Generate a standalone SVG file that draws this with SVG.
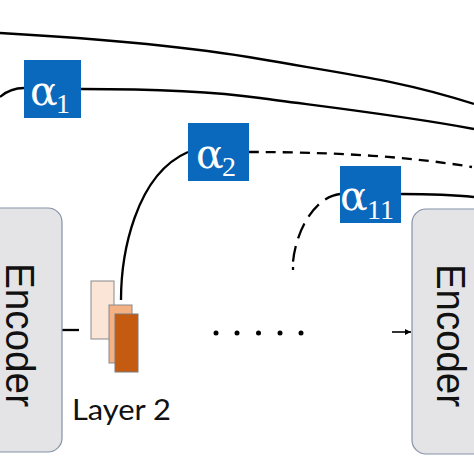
<svg xmlns="http://www.w3.org/2000/svg" width="474" height="474" viewBox="0 0 474 474">
<style>
.enc{fill:#e4e4e6;stroke:#8592a8;stroke-width:1.2}
.enct{font-family:"Liberation Sans",Arial,sans-serif;font-size:40px;fill:#111}
.box{fill:#0a69bd}
.a{font-family:"DejaVu Serif",serif;font-size:41px;fill:#fff}
.s{font-family:"Liberation Serif",serif;font-size:28px;fill:#fff}
.c{fill:none;stroke:#000;stroke-width:2.3}
.d{stroke-dasharray:10 7}
.l{font-family:Lato,"Liberation Sans",sans-serif;font-size:29px;fill:#111}
</style>
<defs><marker id="ah" markerWidth="7" markerHeight="7" refX="6" refY="3" orient="auto" markerUnits="userSpaceOnUse"><path d="M0 0L6 3L0 6z" fill="#000"/></marker></defs>
<rect width="474" height="474" fill="#fff"/>
<g id="connectors">
<path class="c" d="M0 33C90 38 180 45 260 59S400 80 474 104"/>
<path class="c" d="M0 97C8 90 15 88 24 88"/>
<path class="c" d="M81 89C150 89 210 91 260 98S400 115 474 129"/>
<path class="c" d="M121 300C121 255 135 175 188 152"/>
<path class="c d" d="M249 152C320 152 400 155 472 167"/>
<path class="c" style="stroke-dasharray:16 8" d="M340 194C315 197 296 230 293 262"/>
<path class="c" d="M293 267V270"/>
<path class="c" d="M401 194C430 194 455 195 474 197"/>
<path class="c" d="M62 330H79"/>
<path class="c" style="stroke-width:1.6" d="M392 332H411" marker-end="url(#ah)"/>
</g>
<g id="encoder-left"><rect class="enc" x="-30" y="208" width="92" height="244" rx="14"/><text class="enct" transform="translate(6 263) rotate(90)" textLength="144" lengthAdjust="spacingAndGlyphs">Encoder</text></g>
<g id="encoder-right"><rect class="enc" x="412" y="209" width="92" height="245" rx="14"/><text class="enct" transform="translate(437 264) rotate(90)" textLength="143" lengthAdjust="spacingAndGlyphs">Encoder</text></g>
<g id="alpha-1"><rect class="box" x="24" y="60" width="57" height="58"/><text class="a" x="30" y="105">α<tspan class="s" x="56" y="113">1</tspan></text></g>
<g id="alpha-2"><rect class="box" x="188" y="123" width="61" height="58"/><text class="a" x="196" y="168">α<tspan class="s" x="222" y="176">2</tspan></text></g>
<g id="alpha-11"><rect class="box" x="340" y="166" width="61" height="57"/><text class="a" x="340" y="210">α<tspan class="s" x="367" y="219">11</tspan></text></g>
<g id="layer-2">
<rect x="91" y="281" width="23" height="58" fill="#fbe5d6" stroke="#8a8a8a" stroke-width="1"/>
<rect x="109" y="305" width="23" height="58" fill="#f4b183" stroke="#8a8a8a" stroke-width="1"/>
<rect x="115" y="314" width="23" height="58" fill="#c55a11" stroke="#7a7a7a" stroke-width="1"/>
<text class="l" x="72" y="420" textLength="99" lengthAdjust="spacingAndGlyphs">Layer 2</text>
</g>
<g id="dots" fill="#000"><circle cx="216" cy="333" r="2.5"/><circle cx="237" cy="333" r="2.5"/><circle cx="258.500" cy="333" r="2.5"/><circle cx="280" cy="333" r="2.5"/><circle cx="301" cy="333" r="2.5"/></g>
</svg>
